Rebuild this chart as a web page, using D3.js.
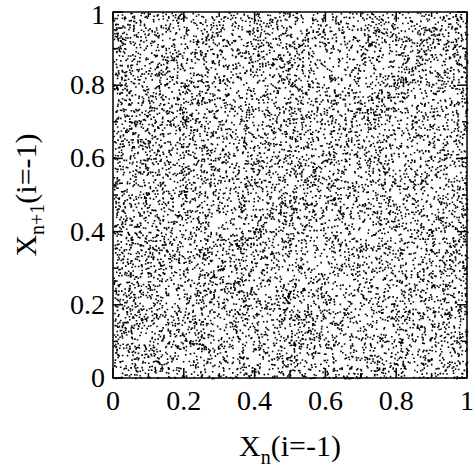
<!DOCTYPE html>
<html><head><meta charset="utf-8">
<script src="https://cdn.jsdelivr.net/npm/d3@7"></script>
<style>body{margin:0;background:#fff}</style></head>
<body><svg id="c" width="474" height="474"></svg>
<script>
const xTicks=[0,0.2,0.4,0.6,0.8,1];
const yTicks=[0,0.2,0.4,0.6,0.8,1];
const xLabel="X", xSub="n", xSuffix="(i=-1)";
const yLabel="X", ySub="n+1", ySuffix="(i=-1)";
// return-map points: iterates of two chaotic orbits (logistic map, uniformised)
const nPoints=10000, seedX=0.3141592, seedY=0.7182818;
function orbit(s){const o=[];let x=s;for(let i=0;i<nPoints+100;i++){x=4*x*(1-x);if(x<=0||x>=1)x=0.123456+i*1e-7;if(i>=100)o.push(2/Math.PI*Math.asin(Math.sqrt(x)));}return o;}
const xs=orbit(seedX), ys=orbit(seedY);

const svg=d3.select("#c");
const L=113,R=467,T=12,B=378;
const x=d3.scaleLinear([0,1],[L,R]), y=d3.scaleLinear([0,1],[B,T]);
let p="";xs.forEach((v,i)=>{p+=`M${x(v).toFixed(2)},${y(ys[i]).toFixed(2)}h1.6v1.6h-1.6z`;});
svg.append("path").attr("d",p).attr("fill","#000");
const g=svg.append("g").attr("stroke","#000").attr("stroke-width",1.5);
g.append("rect").attr("x",L).attr("y",T).attr("width",R-L).attr("height",B-T).attr("fill","none");
const minor=d3.range(0,1.01,0.1);
minor.forEach((t,i)=>{const len=i%2?5:10;
 g.append("line").attr("x1",x(t)).attr("x2",x(t)).attr("y1",B).attr("y2",B-len);
 g.append("line").attr("x1",x(t)).attr("x2",x(t)).attr("y1",T).attr("y2",T+len);
 g.append("line").attr("y1",y(t)).attr("y2",y(t)).attr("x1",L).attr("x2",L+len);
 g.append("line").attr("y1",y(t)).attr("y2",y(t)).attr("x1",R).attr("x2",R-len);});
const f="'Liberation Serif',serif";
svg.selectAll(".xt").data(xTicks).join("text").attr("x",d=>x(d)).attr("y",B+32).attr("text-anchor","middle")
 .attr("font-family",f).attr("font-size",28).text(d=>d3.format("~g")(d));
svg.selectAll(".yt").data(yTicks).join("text").attr("x",L-8).attr("y",d=>Math.max(y(d)+9,24)).attr("text-anchor","end")
 .attr("font-family",f).attr("font-size",28).text(d=>d3.format("~g")(d));
const xl=svg.append("text").attr("x",(L+R)/2).attr("y",456).attr("text-anchor","middle").attr("font-family",f).attr("font-size",30);
xl.append("tspan").text(xLabel);xl.append("tspan").attr("font-size",20).attr("dy",8).text(xSub);xl.append("tspan").attr("dy",-8).text(xSuffix);
const yl=svg.append("text").attr("transform",`translate(36,${(T+B)/2}) rotate(-90)`).attr("text-anchor","middle").attr("font-family",f).attr("font-size",30);
yl.append("tspan").text(yLabel);yl.append("tspan").attr("font-size",20).attr("dy",8).text(ySub);yl.append("tspan").attr("dy",-8).text(ySuffix);
</script></body></html>
